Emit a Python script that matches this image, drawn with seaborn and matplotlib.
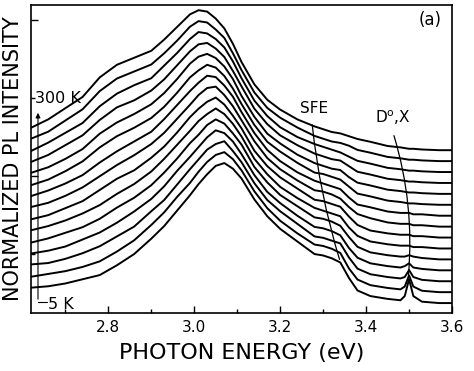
import numpy as np
import pandas as pd
import matplotlib.pyplot as plt
from matplotlib.ticker import MultipleLocator, FixedLocator, NullFormatter
import seaborn as sns

# photon energy grid (eV) at which the spectra were read
energy = [2.62, 2.66, 2.70, 2.74, 2.78, 2.82, 2.86, 2.90, 2.93, 2.96, 2.99, 3.01,
          3.03, 3.05, 3.07, 3.09, 3.11, 3.14, 3.17, 3.20, 3.24, 3.28, 3.30, 3.32,
          3.34, 3.36, 3.38, 3.41, 3.45, 3.48, 3.49, 3.50, 3.51, 3.53, 3.57, 3.60]

# normalized PL spectra, lowest temperature (5 K) first, 300 K last
curve_01 = [0.11, 0.12, 0.14, 0.17, 0.20, 0.27, 0.35, 0.46, 0.55, 0.66, 0.77, 0.85,
            0.92, 0.98, 1.00, 0.96, 0.89, 0.74, 0.62, 0.53, 0.44, 0.35, 0.34, 0.32,
            0.29, 0.18, 0.09, 0.05, 0.03, 0.02, 0.05, 0.17, 0.05, 0.01, 0.00, 0.00]
curve_02 = [0.11, 0.13, 0.15, 0.18, 0.22, 0.29, 0.37, 0.48, 0.57, 0.68, 0.78, 0.86,
            0.93, 0.98, 1.00, 0.95, 0.87, 0.72, 0.60, 0.51, 0.42, 0.34, 0.33, 0.31,
            0.28, 0.17, 0.09, 0.05, 0.03, 0.02, 0.04, 0.12, 0.04, 0.01, 0.00, 0.00]
curve_03 = [0.12, 0.13, 0.16, 0.20, 0.25, 0.32, 0.39, 0.50, 0.58, 0.69, 0.80, 0.87,
            0.94, 0.98, 1.00, 0.93, 0.85, 0.70, 0.58, 0.50, 0.41, 0.32, 0.31, 0.29,
            0.27, 0.17, 0.09, 0.05, 0.03, 0.02, 0.03, 0.08, 0.03, 0.01, 0.00, 0.00]
curve_04 = [0.12, 0.14, 0.17, 0.22, 0.27, 0.34, 0.42, 0.51, 0.60, 0.71, 0.81, 0.88,
            0.95, 1.00, 0.98, 0.92, 0.83, 0.68, 0.56, 0.48, 0.39, 0.31, 0.30, 0.28,
            0.25, 0.16, 0.09, 0.05, 0.03, 0.02, 0.03, 0.05, 0.02, 0.01, 0.00, 0.00]
curve_05 = [0.12, 0.15, 0.19, 0.23, 0.29, 0.37, 0.44, 0.53, 0.62, 0.72, 0.83, 0.89,
            0.96, 1.00, 0.97, 0.90, 0.82, 0.66, 0.55, 0.46, 0.38, 0.30, 0.29, 0.27,
            0.24, 0.16, 0.09, 0.05, 0.03, 0.02, 0.02, 0.03, 0.02, 0.01, 0.00, 0.00]
curve_06 = [0.13, 0.16, 0.20, 0.25, 0.31, 0.39, 0.46, 0.55, 0.64, 0.74, 0.84, 0.91,
            0.96, 1.00, 0.96, 0.89, 0.80, 0.64, 0.53, 0.44, 0.36, 0.29, 0.27, 0.25,
            0.23, 0.15, 0.09, 0.05, 0.03, 0.02, 0.02, 0.02, 0.01, 0.01, 0.00, 0.00]
curve_07 = [0.13, 0.16, 0.21, 0.26, 0.34, 0.42, 0.48, 0.57, 0.65, 0.75, 0.86, 0.92,
            0.97, 1.00, 0.95, 0.87, 0.78, 0.62, 0.51, 0.43, 0.35, 0.27, 0.26, 0.24,
            0.22, 0.15, 0.09, 0.05, 0.03, 0.02, 0.02, 0.02, 0.01, 0.01, 0.00, 0.00]
curve_08 = [0.14, 0.17, 0.22, 0.28, 0.36, 0.44, 0.51, 0.59, 0.67, 0.77, 0.87, 0.94,
            0.99, 1.00, 0.94, 0.86, 0.76, 0.61, 0.49, 0.41, 0.33, 0.26, 0.25, 0.23,
            0.20, 0.14, 0.09, 0.06, 0.03, 0.02, 0.02, 0.02, 0.01, 0.01, 0.00, 0.00]
curve_09 = [0.14, 0.18, 0.23, 0.29, 0.38, 0.46, 0.53, 0.60, 0.69, 0.79, 0.89, 0.95,
            1.00, 0.99, 0.93, 0.85, 0.74, 0.59, 0.47, 0.39, 0.31, 0.25, 0.23, 0.21,
            0.19, 0.13, 0.08, 0.06, 0.03, 0.02, 0.02, 0.02, 0.01, 0.01, 0.00, 0.00]
curve_10 = [0.14, 0.18, 0.24, 0.31, 0.41, 0.49, 0.55, 0.62, 0.70, 0.80, 0.91, 0.96,
            1.00, 0.98, 0.92, 0.83, 0.72, 0.57, 0.45, 0.38, 0.30, 0.23, 0.22, 0.20,
            0.18, 0.13, 0.08, 0.06, 0.03, 0.02, 0.015, 0.01, 0.01, 0.005, 0.00, 0.00]
curve_11 = [0.15, 0.19, 0.25, 0.32, 0.43, 0.51, 0.57, 0.64, 0.72, 0.82, 0.93, 0.98,
            1.00, 0.97, 0.91, 0.82, 0.70, 0.55, 0.43, 0.36, 0.28, 0.22, 0.20, 0.18,
            0.17, 0.12, 0.08, 0.06, 0.03, 0.02, 0.015, 0.01, 0.01, 0.005, 0.00, 0.00]
curve_12 = [0.15, 0.20, 0.27, 0.34, 0.45, 0.54, 0.59, 0.66, 0.74, 0.84, 0.94, 0.99,
            1.00, 0.96, 0.90, 0.80, 0.69, 0.53, 0.42, 0.34, 0.27, 0.21, 0.19, 0.17,
            0.16, 0.12, 0.08, 0.06, 0.03, 0.02, 0.015, 0.01, 0.01, 0.005, 0.00, 0.00]
curve_13 = [0.15, 0.21, 0.28, 0.35, 0.47, 0.56, 0.62, 0.67, 0.76, 0.85, 0.95, 1.00,
            0.99, 0.95, 0.89, 0.79, 0.67, 0.51, 0.40, 0.32, 0.25, 0.20, 0.18, 0.16,
            0.14, 0.11, 0.08, 0.06, 0.03, 0.02, 0.015, 0.01, 0.01, 0.005, 0.00, 0.00]
curve_14 = [0.16, 0.21, 0.29, 0.37, 0.50, 0.59, 0.64, 0.69, 0.77, 0.86, 0.96, 1.00,
            0.99, 0.94, 0.88, 0.77, 0.65, 0.49, 0.38, 0.31, 0.24, 0.18, 0.16, 0.14,
            0.13, 0.11, 0.08, 0.06, 0.03, 0.02, 0.015, 0.01, 0.01, 0.005, 0.00, 0.00]
curve_15 = [0.16, 0.22, 0.30, 0.38, 0.52, 0.61, 0.66, 0.71, 0.79, 0.88, 0.97, 1.00,
            0.99, 0.94, 0.87, 0.76, 0.63, 0.47, 0.36, 0.29, 0.22, 0.17, 0.15, 0.13,
            0.12, 0.10, 0.08, 0.06, 0.03, 0.02, 0.015, 0.01, 0.01, 0.005, 0.00, 0.00]

curves = [curve_01, curve_02, curve_03, curve_04, curve_05, curve_06, curve_07,
          curve_08, curve_09, curve_10, curve_11, curve_12, curve_13, curve_14,
          curve_15]

# vertical stacking of the spectra
base = 0.071
step = 0.078

frames = []
for i, c in enumerate(curves):
    frames.append(pd.DataFrame({"energy": energy,
                                "intensity": np.array(c) + base + step * i,
                                "curve": i}))
df = pd.concat(frames, ignore_index=True)

sns.set_style("ticks")
plt.rcParams["font.family"] = ["DejaVu Sans"]
plt.rcParams["xtick.direction"] = "in"
plt.rcParams["ytick.direction"] = "in"
plt.rcParams["text.color"] = "black"
plt.rcParams["axes.labelcolor"] = "black"
plt.rcParams["axes.edgecolor"] = "black"
plt.rcParams["xtick.color"] = "black"
plt.rcParams["ytick.color"] = "black"

fig = plt.figure(figsize=(4.74, 3.71), dpi=100)
ax = fig.add_axes([0.0654, 0.1563, 0.8882, 0.8302])

sns.lineplot(data=df, x="energy", y="intensity", units="curve", estimator=None,
             color="black", lw=1.4, sort=False, ax=ax)
for ln in ax.get_lines():
    ln.set_solid_joinstyle("round")

ax.set_xlim(2.62, 3.6)
ax.set_ylim(0, 2.2)

ax.xaxis.set_major_locator(MultipleLocator(0.2))
ax.xaxis.set_minor_locator(MultipleLocator(0.1))
ax.xaxis.set_major_formatter(plt.FormatStrFormatter("%.1f"))
ax.yaxis.set_major_locator(FixedLocator([0.979, 2.093]))
ax.yaxis.set_minor_locator(FixedLocator([0.421, 1.536]))
ax.yaxis.set_major_formatter(NullFormatter())
ax.tick_params(axis="x", which="major", length=5, width=1, labelsize=11, pad=5)
ax.tick_params(axis="x", which="minor", length=3, width=1)
ax.tick_params(axis="y", which="major", length=5, width=1)
ax.tick_params(axis="y", which="minor", length=3, width=1)
for s in ax.spines.values():
    s.set_linewidth(1.2)

ax.set_xlabel("PHOTON ENERGY (eV)", fontsize=16, labelpad=6)
ax.set_ylabel("NORMALIZED PL INTENSITY", fontsize=15)
ax.yaxis.set_label_coords(-0.02, 0.5)

# annotations
ax.text(0.948, 0.951, "(a)", transform=ax.transAxes, fontsize=12,
        ha="center", va="center")
ax.text(3.279, 1.464, "SFE", fontsize=11, ha="center", va="center")
ax.text(3.463, 1.393, r"D$^\mathregular{o}$,X", fontsize=11, ha="center", va="center")
ax.annotate("", xy=(3.340, 0.364), xytext=(3.274, 1.364),
            arrowprops=dict(arrowstyle="-", lw=0.9, color="black",
                            connectionstyle="arc3,rad=0.05"))
ax.annotate("", xy=(3.498, 0.250), xytext=(3.463, 1.286),
            arrowprops=dict(arrowstyle="-", lw=0.9, color="black",
                            connectionstyle="arc3,rad=-0.1"))

# temperature arrow on the left
ax.annotate("", xy=(0.0166, 0.659), xytext=(0.0166, 0.036), xycoords="axes fraction",
            arrowprops=dict(arrowstyle="-|>", lw=0.8, color="black", mutation_scale=7))
ax.plot([0.0166, 0.037], [0.036, 0.036], color="black", lw=0.8, transform=ax.transAxes)
ax.text(0.0095, 0.696, "300 K", transform=ax.transAxes, fontsize=11.5,
        ha="left", va="center")
ax.text(0.041, 0.028, "5 K", transform=ax.transAxes, fontsize=11.5,
        ha="left", va="center")

fig.savefig("out.png", dpi=100)
